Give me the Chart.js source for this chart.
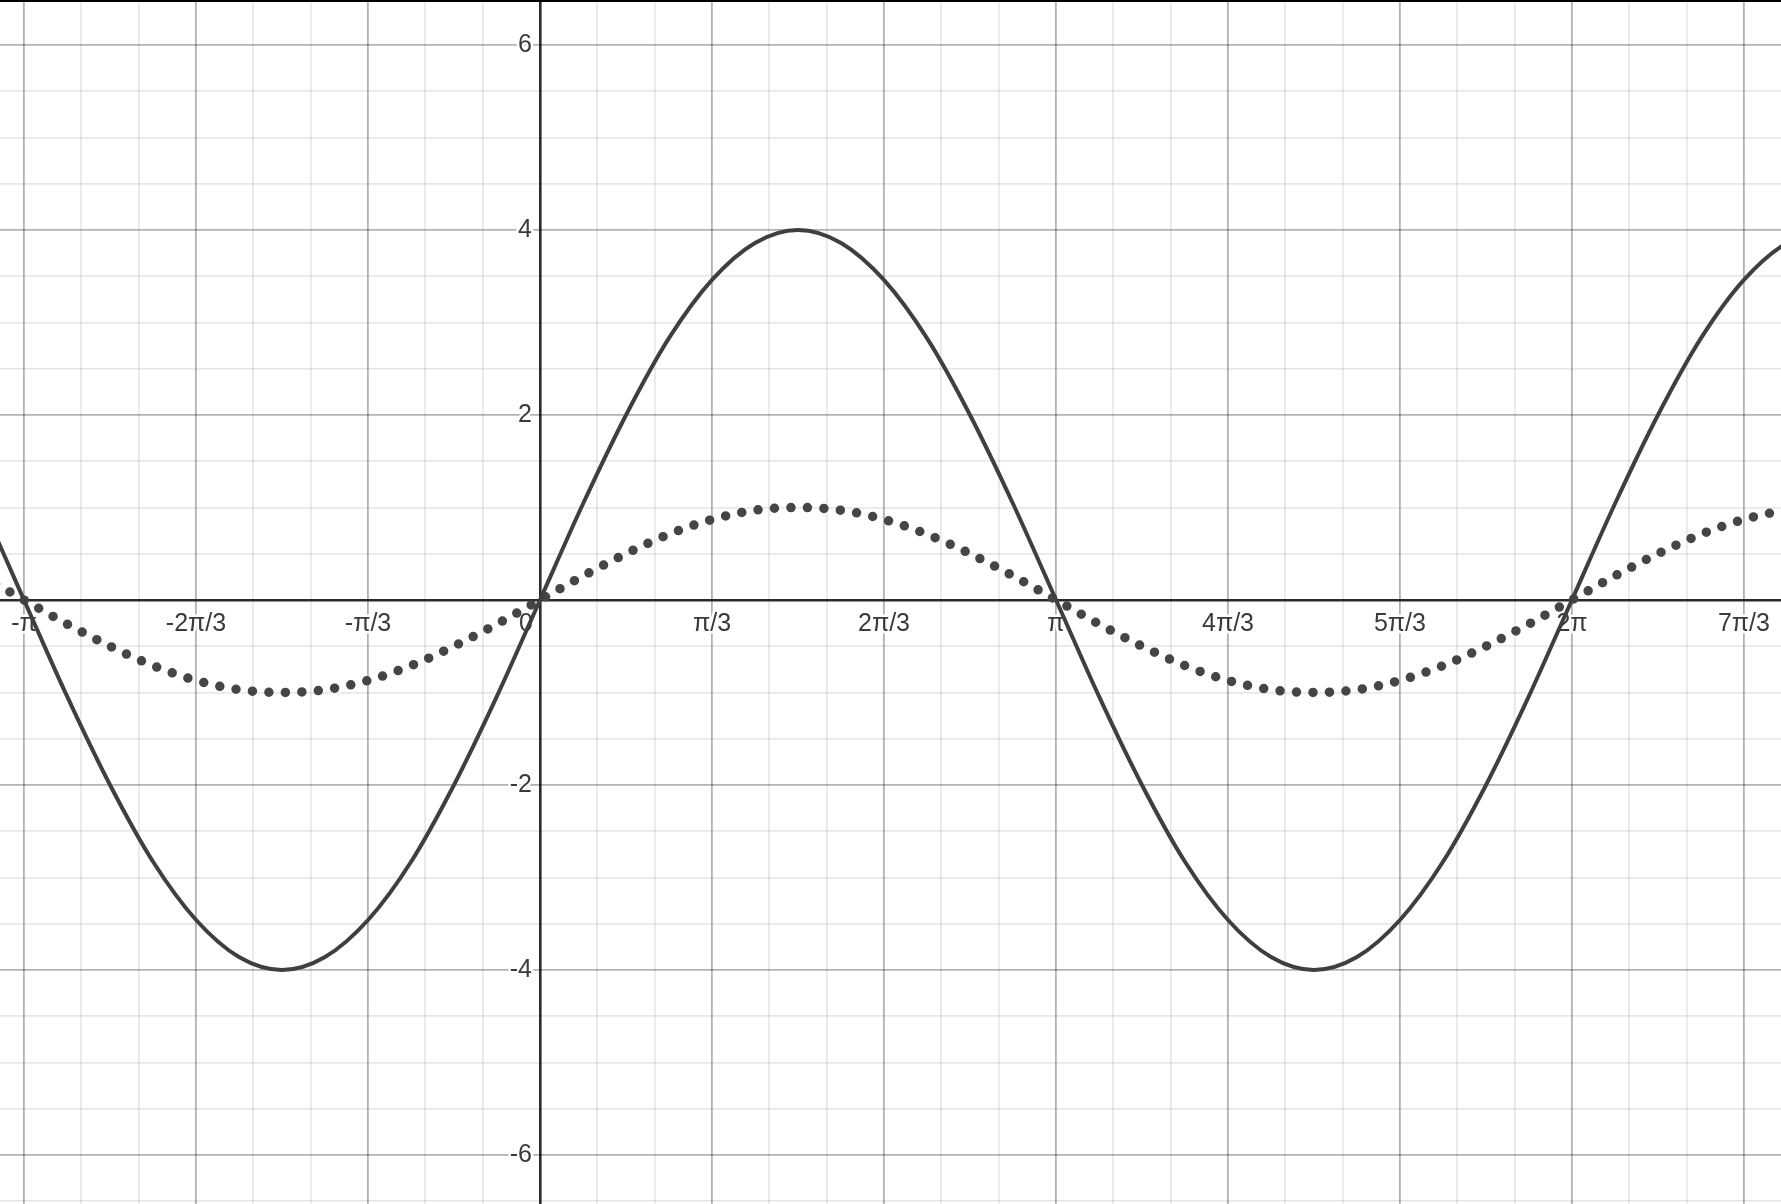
<!DOCTYPE html>
<html>
<head>
<meta charset="utf-8">
<title>y = 4 sin x and y = sin x</title>
<script src="https://cdn.jsdelivr.net/npm/chart.js@4.4.1/dist/chart.umd.min.js"></script>
<style>
    html, body { margin: 0; padding: 0; background: #fff; }
    #wrap { position: relative; width: 1781px; height: 1204px; }
</style>
</head>
<body>
<div id="wrap"><canvas id="graph"></canvas></div>
<script>
const xValues = [
    -3.927, -3.665, -3.403, -3.142, -2.880, -2.618, -2.356, -2.094, -1.833, -1.571, -1.309, -1.047, -0.785, -0.524, -0.262,
    0, 0.262, 0.524, 0.785, 1.047, 1.309, 1.571, 1.833, 2.094, 2.356, 2.618, 2.880,
    3.142, 3.403, 3.665, 3.927, 4.189, 4.451, 4.712, 4.974, 5.236, 5.498, 5.760, 6.021,
    6.283, 6.545, 6.807, 7.069, 7.330, 7.592, 7.854, 8.116
];
const solidValues = [
    2.83, 2, 1.04, 0, -1.04, -2, -2.83, -3.46, -3.86, -4, -3.86, -3.46, -2.83, -2, -1.04,
    0, 1.04, 2, 2.83, 3.46, 3.86, 4, 3.86, 3.46, 2.83, 2, 1.04,
    0, -1.04, -2, -2.83, -3.46, -3.86, -4, -3.86, -3.46, -2.83, -2, -1.04,
    0, 1.04, 2, 2.83, 3.46, 3.86, 4, 3.86
];
const dottedValues = [
    0.71, 0.5, 0.26, 0, -0.26, -0.5, -0.71, -0.87, -0.97, -1, -0.97, -0.87, -0.71, -0.5, -0.26,
    0, 0.26, 0.5, 0.71, 0.87, 0.97, 1, 0.97, 0.87, 0.71, 0.5, 0.26,
    0, -0.26, -0.5, -0.71, -0.87, -0.97, -1, -0.97, -0.87, -0.71, -0.5, -0.26,
    0, 0.26, 0.5, 0.71, 0.87, 0.97, 1, 0.97
];

// tick labels
const xTickValues = [-3.1416, -2.0944, -1.0472, 0, 1.0472, 2.0944, 3.1416, 4.1888, 5.2360, 6.2832, 7.3304];
const xTickLabels = ['-π', '-2π/3', '-π/3', '0', 'π/3', '2π/3', 'π', '4π/3', '5π/3', '2π', '7π/3'];
const yTickValues = [6, 4, 2, -2, -4, -6];
const yTickLabels = ['6', '4', '2', '-2', '-4', '-6'];

// --- view window ---
const X_MIN = -3.288, X_MAX = 7.556;
const Y_MIN = -6.53, Y_MAX = 6.486;
const THIRD_PI = Math.PI / 3;

const LINE_COLOR = '#3f3f3f';
const AXIS_COLOR = '#2a2a2a';
const MAJOR_GRID = 'rgba(0,0,0,0.30)';
const MINOR_GRID = 'rgba(0,0,0,0.09)';

function isMultiple(v, step) {
    const r = v / step;
    return Math.abs(r - Math.round(r)) < 1e-6;
}

function gridColor(ctx, step) {
    const v = ctx.tick ? ctx.tick.value : 0;
    if (Math.abs(v) < 1e-9) return AXIS_COLOR;
    return isMultiple(v, step) ? MAJOR_GRID : MINOR_GRID;
}

function gridWidth(ctx) {
    const v = ctx.tick ? ctx.tick.value : 0;
    return Math.abs(v) < 1e-9 ? 2.6 : 1.8;
}

// desmos-style labels sitting on the axes, drawn under the curves
const axisLabels = {
    id: 'axisLabels',
    beforeDatasetsDraw(chart) {
        const { ctx, scales: { x, y } } = chart;
        const x0 = x.getPixelForValue(0);
        const y0 = y.getPixelForValue(0);
        ctx.save();
        ctx.font = '25px "Liberation Sans", Arial, sans-serif';
        ctx.fillStyle = '#3a3a3a';
        ctx.strokeStyle = '#ffffff';
        ctx.lineWidth = 5;
        ctx.lineJoin = 'round';
        ctx.textBaseline = 'middle';

        xTickValues.forEach((v, i) => {
            const px = x.getPixelForValue(v);
            let tx = px;
            if (v === 0) {
                ctx.textAlign = 'right';
                tx = px - 7;
            } else {
                ctx.textAlign = 'center';
            }
            ctx.strokeText(xTickLabels[i], tx, y0 + 24);
            ctx.fillText(xTickLabels[i], tx, y0 + 24);
        });

        ctx.textAlign = 'right';
        yTickValues.forEach((v, i) => {
            const py = y.getPixelForValue(v);
            ctx.strokeText(yTickLabels[i], x0 - 8, py);
            ctx.fillText(yTickLabels[i], x0 - 8, py);
        });
        ctx.restore();
    },
    afterDraw(chart) {
        // thin dark edge along the top of the screenshot
        const { ctx } = chart;
        ctx.save();
        ctx.fillStyle = '#000';
        ctx.fillRect(0, 0, chart.width, 2);
        ctx.restore();
    }
};

document.addEventListener('DOMContentLoaded', function() {
    const el = document.getElementById('graph');

    new Chart(el.getContext('2d'), {
        type: 'line',
        data: {
            datasets: [
                {
                    label: 'y = 4 sin x',
                    data: xValues.map((v, i) => ({ x: v, y: solidValues[i] })),
                    borderColor: LINE_COLOR,
                    borderWidth: 4,
                    cubicInterpolationMode: 'monotone',
                    pointRadius: 0,
                    fill: false
                },
                {
                    label: 'y = sin x',
                    data: xValues.map((v, i) => ({ x: v, y: dottedValues[i] })),
                    borderColor: '#454545',
                    borderWidth: 9.5,
                    borderDash: [0, 16.5],
                    borderCapStyle: 'round',
                    cubicInterpolationMode: 'monotone',
                    pointRadius: 0,
                    fill: false
                }
            ]
        },
        options: {
            responsive: true,
            maintainAspectRatio: false,
            animation: false,
            layout: { padding: 0 },
            events: [],
            scales: {
                x: {
                    type: 'linear',
                    min: X_MIN,
                    max: X_MAX,
                    afterBuildTicks: (scale) => {
                        const step = Math.PI / 9;
                        const ticks = [];
                        for (let k = Math.ceil(X_MIN / step); k * step <= X_MAX; k++) {
                            ticks.push({ value: k === 0 ? 0 : k * step });
                        }
                        scale.ticks = ticks;
                    },
                    ticks: { display: false },
                    border: { display: false },
                    grid: {
                        drawTicks: false,
                        color: (ctx) => gridColor(ctx, THIRD_PI),
                        lineWidth: gridWidth
                    }
                },
                y: {
                    type: 'linear',
                    min: Y_MIN,
                    max: Y_MAX,
                    afterBuildTicks: (scale) => {
                        const ticks = [];
                        for (let k = Math.ceil(Y_MIN / 0.5); k * 0.5 <= Y_MAX; k++) {
                            ticks.push({ value: k * 0.5 });
                        }
                        scale.ticks = ticks;
                    },
                    ticks: { display: false },
                    border: { display: false },
                    grid: {
                        drawTicks: false,
                        color: (ctx) => gridColor(ctx, 2),
                        lineWidth: gridWidth
                    }
                }
            },
            plugins: {
                legend: { display: false },
                tooltip: { enabled: false }
            }
        },
        plugins: [axisLabels]
    });
});
</script>
</body>
</html>
